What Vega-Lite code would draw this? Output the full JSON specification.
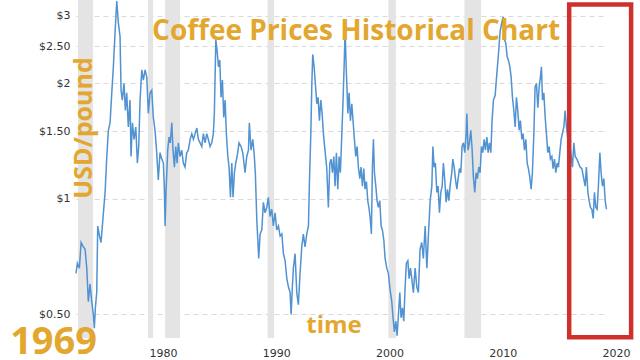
{
  "$schema": "https://vega.github.io/schema/vega-lite/v6.json",
  "width": 531,
  "height": 338,
  "autosize": {"type": "none"},
  "padding": {"left": 76, "top": 0, "right": 33, "bottom": 22},
  "background": "white",
  "config": {
    "view": {"stroke": null},
    "axis": {"domain": false, "ticks": false, "tickSize": 0, "labelFont": "DejaVu Sans", "labelFontSize": 11, "labelColor": "#333333"},
    "axisX": {"grid": false},
    "axisY": {"grid": true, "gridColor": "#d9d9d9", "gridDash": [5, 4], "gridWidth": 1}
  },
  "datasets": {
    "bands": [
      {"t": 1973.90, "t2": 1975.23},
      {"t": 1980.08, "t2": 1980.53},
      {"t": 1981.59, "t2": 1982.91},
      {"t": 1990.64, "t2": 1991.22},
      {"t": 2001.31, "t2": 2001.97},
      {"t": 2008.03, "t2": 2009.50}
    ],
    "price": [
      {"t":1973.72,"p":0.64},{"t":1973.84,"p":0.68},{"t":1974.02,"p":0.66},{"t":1974.17,"p":0.77},{"t":1974.37,"p":0.75},{"t":1974.52,"p":0.74},{"t":1974.67,"p":0.66},{"t":1974.81,"p":0.54},{"t":1974.96,"p":0.60},{"t":1975.11,"p":0.54},{"t":1975.25,"p":0.50},{"t":1975.34,"p":0.46},{"t":1975.43,"p":0.52},{"t":1975.55,"p":0.57},{"t":1975.64,"p":0.85},{"t":1975.76,"p":0.81},{"t":1975.93,"p":0.77},
      {"t":1976.14,"p":0.92},{"t":1976.29,"p":1.04},{"t":1976.44,"p":1.29},{"t":1976.58,"p":1.51},{"t":1976.73,"p":1.58},{"t":1976.88,"p":1.89},{"t":1977.02,"p":2.21},{"t":1977.17,"p":2.71},{"t":1977.32,"p":3.28},{"t":1977.46,"p":2.88},{"t":1977.61,"p":2.65},{"t":1977.70,"p":1.92},{"t":1977.81,"p":1.81},{"t":1977.96,"p":2.00},
      {"t":1978.08,"p":1.70},{"t":1978.20,"p":1.89},{"t":1978.34,"p":1.54},{"t":1978.49,"p":1.81},{"t":1978.58,"p":1.29},{"t":1978.70,"p":1.58},{"t":1978.85,"p":1.43},{"t":1979.00,"p":1.54},{"t":1979.14,"p":1.24},{"t":1979.26,"p":1.37},{"t":1979.38,"p":1.81},{"t":1979.53,"p":2.17},{"t":1979.67,"p":2.04},{"t":1979.82,"p":2.17},{"t":1979.97,"p":2.08},
      {"t":1980.11,"p":1.67},{"t":1980.26,"p":1.89},{"t":1980.41,"p":1.92},{"t":1980.55,"p":1.63},{"t":1980.70,"p":1.51},{"t":1980.85,"p":1.32},{"t":1980.99,"p":1.12},{"t":1981.14,"p":1.32},{"t":1981.30,"p":1.27},{"t":1981.44,"p":1.24},{"t":1981.52,"p":1.08},{"t":1981.59,"p":0.85},{"t":1981.67,"p":1.04},{"t":1981.82,"p":1.34},{"t":1981.94,"p":1.45},
      {"t":1982.05,"p":1.40},{"t":1982.18,"p":1.58},{"t":1982.29,"p":1.34},{"t":1982.41,"p":1.21},{"t":1982.53,"p":1.37},{"t":1982.65,"p":1.24},{"t":1982.76,"p":1.40},{"t":1982.91,"p":1.29},{"t":1983.06,"p":1.34},{"t":1983.20,"p":1.24},{"t":1983.35,"p":1.21},{"t":1983.50,"p":1.32},{"t":1983.64,"p":1.34},{"t":1983.80,"p":1.43},{"t":1983.95,"p":1.48},
      {"t":1984.09,"p":1.43},{"t":1984.24,"p":1.48},{"t":1984.39,"p":1.53},{"t":1984.53,"p":1.43},{"t":1984.68,"p":1.40},{"t":1984.83,"p":1.37},{"t":1984.97,"p":1.48},{"t":1985.12,"p":1.40},{"t":1985.27,"p":1.48},{"t":1985.41,"p":1.43},{"t":1985.56,"p":1.37},{"t":1985.71,"p":1.40},{"t":1985.85,"p":1.48},{"t":1985.94,"p":1.67},
      {"t":1986.07,"p":2.60},{"t":1986.18,"p":2.44},{"t":1986.30,"p":2.21},{"t":1986.42,"p":2.30},{"t":1986.53,"p":1.84},{"t":1986.65,"p":2.04},{"t":1986.77,"p":1.63},{"t":1986.89,"p":1.81},{"t":1987.00,"p":1.48},{"t":1987.13,"p":1.29},{"t":1987.24,"p":1.21},{"t":1987.36,"p":1.01},{"t":1987.48,"p":1.24},{"t":1987.59,"p":1.01},{"t":1987.71,"p":1.17},{"t":1987.83,"p":1.24},{"t":1987.95,"p":1.29},
      {"t":1988.12,"p":1.40},{"t":1988.30,"p":1.37},{"t":1988.45,"p":1.32},{"t":1988.65,"p":1.17},{"t":1988.80,"p":1.29},{"t":1988.95,"p":1.34},{"t":1989.03,"p":1.58},{"t":1989.18,"p":1.34},{"t":1989.33,"p":1.43},{"t":1989.45,"p":1.32},{"t":1989.56,"p":1.17},{"t":1989.69,"p":0.88},{"t":1989.78,"p":0.78},{"t":1989.86,"p":0.70},{"t":1989.98,"p":0.81},
      {"t":1990.13,"p":0.83},{"t":1990.27,"p":0.98},{"t":1990.42,"p":0.92},{"t":1990.57,"p":0.95},{"t":1990.71,"p":1.01},{"t":1990.86,"p":0.90},{"t":1991.01,"p":0.94},{"t":1991.15,"p":0.85},{"t":1991.30,"p":0.92},{"t":1991.45,"p":0.83},{"t":1991.60,"p":0.85},{"t":1991.75,"p":0.80},{"t":1991.90,"p":0.81},
      {"t":1992.04,"p":0.72},{"t":1992.19,"p":0.69},{"t":1992.34,"p":0.62},{"t":1992.48,"p":0.59},{"t":1992.63,"p":0.57},{"t":1992.72,"p":0.50},{"t":1992.83,"p":0.59},{"t":1992.92,"p":0.66},{"t":1993.07,"p":0.72},{"t":1993.22,"p":0.57},{"t":1993.36,"p":0.53},{"t":1993.51,"p":0.64},{"t":1993.66,"p":0.75},{"t":1993.80,"p":0.81},{"t":1993.95,"p":0.75},
      {"t":1994.10,"p":0.81},{"t":1994.25,"p":0.85},{"t":1994.33,"p":1.08},{"t":1994.46,"p":1.48},{"t":1994.55,"p":2.00},{"t":1994.63,"p":2.38},{"t":1994.75,"p":2.21},{"t":1994.86,"p":2.00},{"t":1994.99,"p":1.77},{"t":1995.10,"p":1.84},{"t":1995.22,"p":1.60},{"t":1995.34,"p":1.81},{"t":1995.46,"p":1.67},{"t":1995.57,"p":1.48},{"t":1995.72,"p":1.33},{"t":1995.87,"p":1.20},
      {"t":1996.01,"p":0.95},{"t":1996.14,"p":1.24},{"t":1996.25,"p":1.27},{"t":1996.37,"p":1.17},{"t":1996.49,"p":1.29},{"t":1996.60,"p":1.08},{"t":1996.72,"p":1.32},{"t":1996.84,"p":1.06},{"t":1996.96,"p":1.29},{"t":1997.07,"p":1.17},{"t":1997.20,"p":1.48},{"t":1997.31,"p":1.81},{"t":1997.40,"p":2.21},{"t":1997.49,"p":2.77},{"t":1997.58,"p":2.21},{"t":1997.66,"p":1.92},{"t":1997.73,"p":1.67},{"t":1997.84,"p":1.89},{"t":1997.96,"p":1.60},
      {"t":1998.08,"p":1.77},{"t":1998.19,"p":1.60},{"t":1998.31,"p":1.43},{"t":1998.43,"p":1.29},{"t":1998.55,"p":1.37},{"t":1998.66,"p":1.21},{"t":1998.79,"p":1.13},{"t":1998.90,"p":1.21},{"t":1999.02,"p":1.08},{"t":1999.14,"p":1.20},{"t":1999.25,"p":1.06},{"t":1999.37,"p":1.11},{"t":1999.49,"p":0.99},{"t":1999.61,"p":0.94},{"t":1999.72,"p":0.88},{"t":1999.81,"p":0.81},{"t":1999.90,"p":1.21},{"t":1999.99,"p":1.43},
      {"t":2000.08,"p":1.17},{"t":2000.20,"p":1.08},{"t":2000.31,"p":0.99},{"t":2000.43,"p":0.95},{"t":2000.55,"p":0.99},{"t":2000.67,"p":0.85},{"t":2000.78,"p":0.83},{"t":2000.91,"p":0.78},{"t":2001.02,"p":0.70},{"t":2001.17,"p":0.66},{"t":2001.31,"p":0.64},{"t":2001.46,"p":0.58},{"t":2001.61,"p":0.54},{"t":2001.75,"p":0.48},{"t":2001.84,"p":0.45},{"t":2001.97,"p":0.48},
      {"t":2002.08,"p":0.44},{"t":2002.20,"p":0.50},{"t":2002.32,"p":0.57},{"t":2002.43,"p":0.49},{"t":2002.55,"p":0.52},{"t":2002.67,"p":0.48},{"t":2002.79,"p":0.59},{"t":2002.90,"p":0.68},{"t":2003.03,"p":0.69},{"t":2003.14,"p":0.62},{"t":2003.26,"p":0.66},{"t":2003.38,"p":0.62},{"t":2003.52,"p":0.57},{"t":2003.67,"p":0.66},{"t":2003.82,"p":0.59},{"t":2003.96,"p":0.57},
      {"t":2004.11,"p":0.74},{"t":2004.26,"p":0.77},{"t":2004.40,"p":0.70},{"t":2004.56,"p":0.85},{"t":2004.71,"p":0.66},{"t":2004.85,"p":0.81},{"t":2005.00,"p":0.99},{"t":2005.15,"p":1.08},{"t":2005.24,"p":1.37},{"t":2005.35,"p":1.21},{"t":2005.46,"p":1.24},{"t":2005.59,"p":1.04},{"t":2005.70,"p":1.08},{"t":2005.82,"p":0.92},{"t":2005.94,"p":1.04},
      {"t":2006.06,"p":1.08},{"t":2006.17,"p":1.24},{"t":2006.30,"p":1.11},{"t":2006.41,"p":0.98},{"t":2006.53,"p":1.06},{"t":2006.65,"p":0.99},{"t":2006.76,"p":1.08},{"t":2006.91,"p":1.17},{"t":2007.00,"p":1.27},{"t":2007.12,"p":1.21},{"t":2007.23,"p":1.13},{"t":2007.36,"p":1.06},{"t":2007.47,"p":1.13},{"t":2007.59,"p":1.20},{"t":2007.71,"p":1.17},{"t":2007.82,"p":1.37},{"t":2007.94,"p":1.40},
      {"t":2008.06,"p":1.32},{"t":2008.18,"p":1.48},{"t":2008.24,"p":1.67},{"t":2008.35,"p":1.34},{"t":2008.47,"p":1.40},{"t":2008.59,"p":1.51},{"t":2008.71,"p":1.34},{"t":2008.82,"p":1.14},{"t":2008.94,"p":1.04},{"t":2009.06,"p":1.17},{"t":2009.17,"p":1.13},{"t":2009.30,"p":1.21},{"t":2009.41,"p":1.17},{"t":2009.53,"p":1.37},{"t":2009.65,"p":1.32},{"t":2009.77,"p":1.43},{"t":2009.88,"p":1.34},
      {"t":2010.01,"p":1.45},{"t":2010.12,"p":1.32},{"t":2010.24,"p":1.40},{"t":2010.36,"p":1.32},{"t":2010.47,"p":1.60},{"t":2010.59,"p":1.81},{"t":2010.74,"p":1.86},{"t":2010.89,"p":2.12},{"t":2011.03,"p":2.38},{"t":2011.18,"p":2.74},{"t":2011.33,"p":2.88},{"t":2011.45,"p":2.98},{"t":2011.56,"p":2.60},{"t":2011.68,"p":2.55},{"t":2011.80,"p":2.35},{"t":2011.91,"p":2.30},
      {"t":2012.04,"p":2.21},{"t":2012.15,"p":2.08},{"t":2012.27,"p":1.84},{"t":2012.39,"p":1.70},{"t":2012.51,"p":1.54},{"t":2012.62,"p":1.84},{"t":2012.74,"p":1.70},{"t":2012.86,"p":1.51},{"t":2012.97,"p":1.60},{"t":2013.10,"p":1.43},{"t":2013.21,"p":1.48},{"t":2013.33,"p":1.34},{"t":2013.45,"p":1.43},{"t":2013.57,"p":1.24},{"t":2013.68,"p":1.20},{"t":2013.80,"p":1.14},{"t":2013.92,"p":1.06},
      {"t":2014.03,"p":1.17},{"t":2014.16,"p":1.48},{"t":2014.27,"p":1.96},{"t":2014.39,"p":2.00},{"t":2014.51,"p":1.73},{"t":2014.63,"p":1.96},{"t":2014.74,"p":2.08},{"t":2014.83,"p":2.21},{"t":2014.92,"p":1.81},{"t":2015.04,"p":1.89},{"t":2015.16,"p":1.63},{"t":2015.27,"p":1.48},{"t":2015.39,"p":1.32},{"t":2015.51,"p":1.37},{"t":2015.62,"p":1.27},{"t":2015.75,"p":1.29},{"t":2015.86,"p":1.20},{"t":2015.98,"p":1.27},
      {"t":2016.10,"p":1.17},{"t":2016.22,"p":1.24},{"t":2016.33,"p":1.21},{"t":2016.45,"p":1.32},{"t":2016.57,"p":1.43},{"t":2016.68,"p":1.48},{"t":2016.81,"p":1.54},{"t":2016.92,"p":1.70},{"t":2017.04,"p":1.54},{"t":2017.16,"p":1.43},{"t":2017.39,"p":1.34},{"t":2017.57,"p":1.21},{"t":2017.69,"p":1.40},{"t":2017.81,"p":1.29},{"t":2017.96,"p":1.27},
      {"t":2018.10,"p":1.24},{"t":2018.25,"p":1.21},{"t":2018.40,"p":1.20},{"t":2018.54,"p":1.14},{"t":2018.69,"p":1.08},{"t":2018.80,"p":1.21},{"t":2018.93,"p":1.04},{"t":2019.04,"p":0.99},{"t":2019.16,"p":0.95},{"t":2019.28,"p":0.94},{"t":2019.40,"p":0.89},{"t":2019.51,"p":1.04},{"t":2019.63,"p":0.95},{"t":2019.75,"p":0.94},{"t":2019.86,"p":1.08},{"t":2019.99,"p":1.32},
      {"t":2020.10,"p":1.17},{"t":2020.22,"p":1.08},{"t":2020.34,"p":1.13},{"t":2020.46,"p":0.99},{"t":2020.57,"p":0.94}
    ],
    "box": [{"t": 2017.28, "t2": 2022.75, "p": 3.21, "p2": 0.436}],
    "title": [{"t": 1998.46, "p": 2.597, "label": "Coffee Prices Historical Chart"}],
    "ylab": [{"t": 1975.09, "p": 1.531, "label": "USD/pound"}],
    "xlab": [{"t": 1996.51, "p": 0.447, "label": "time"}],
    "year": [{"t": 1971.74, "p": 0.395, "label": "1969"}]
  },
  "layer": [
    {
      "data": {"name": "bands"},
      "mark": {"type": "rect", "color": "#e4e4e4"},
      "encoding": {
        "x": {"field": "t", "type": "quantitative", "title": null, "scale": {"domain": [1973.72, 2020.62], "nice": false, "zero": false}},
        "x2": {"field": "t2"}
      }
    },
    {
      "data": {"name": "price"},
      "mark": {"type": "line", "color": "#5192d2", "strokeWidth": 1.5},
      "encoding": {
        "x": {"field": "t", "type": "quantitative", "title": null,
              "axis": {"values": [1980, 1990, 2000, 2010, 2020], "labelOffset": 16, "labelPadding": 9, "format": "d", "grid": false}},
        "y": {"field": "p", "type": "quantitative", "title": null,
              "scale": {"type": "log", "domain": [0.434, 3.3], "nice": false},
              "axis": {"values": [0.5, 1, 1.5, 2, 2.5, 3], "labelPadding": 6,
                       "labelExpr": "datum.value == 0.5 ? '$0.50' : datum.value == 1.5 ? '$1.50' : datum.value == 2.5 ? '$2.50' : '$' + datum.value"}}
      }
    },
    {
      "data": {"name": "box"},
      "mark": {"type": "rect", "fill": null, "fillOpacity": 0, "stroke": "#d0302c", "strokeWidth": 4.5},
      "encoding": {
        "x": {"field": "t", "type": "quantitative", "title": null},
        "x2": {"field": "t2"},
        "y": {"field": "p", "type": "quantitative", "title": null},
        "y2": {"field": "p2"}
      }
    },
    {
      "data": {"name": "title"},
      "mark": {"type": "text", "font": "Open Sans", "fontSize": 28, "fontWeight": "bold", "color": "#e3a72f", "align": "center", "baseline": "alphabetic"},
      "encoding": {
        "x": {"field": "t", "type": "quantitative", "title": null},
        "y": {"field": "p", "type": "quantitative", "title": null},
        "text": {"field": "label"}
      }
    },
    {
      "data": {"name": "ylab"},
      "mark": {"type": "text", "font": "Open Sans", "fontSize": 25, "fontWeight": "bold", "color": "#e3a72f", "align": "center", "baseline": "alphabetic", "angle": 270},
      "encoding": {
        "x": {"field": "t", "type": "quantitative", "title": null},
        "y": {"field": "p", "type": "quantitative", "title": null},
        "text": {"field": "label"}
      }
    },
    {
      "data": {"name": "xlab"},
      "mark": {"type": "text", "font": "Open Sans", "fontSize": 24, "fontWeight": "bold", "color": "#e3a72f", "align": "center", "baseline": "alphabetic"},
      "encoding": {
        "x": {"field": "t", "type": "quantitative", "title": null},
        "y": {"field": "p", "type": "quantitative", "title": null},
        "text": {"field": "label"}
      }
    },
    {
      "data": {"name": "year"},
      "mark": {"type": "text", "font": "Open Sans", "fontSize": 38, "fontWeight": "bold", "color": "#e3a72f", "align": "center", "baseline": "alphabetic"},
      "encoding": {
        "x": {"field": "t", "type": "quantitative", "title": null},
        "y": {"field": "p", "type": "quantitative", "title": null},
        "text": {"field": "label"}
      }
    }
  ]
}
